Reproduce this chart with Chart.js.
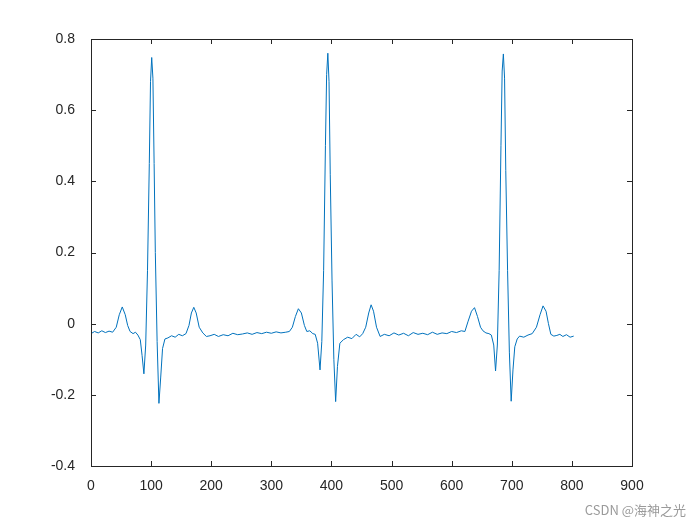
<!DOCTYPE html>
<html>
<head>
<meta charset="utf-8">
<script src="https://cdn.jsdelivr.net/npm/chart.js@4"></script>
<style>
body { margin: 0; background: #fff; }
#wrap { position: relative; width: 700px; height: 525px; }
#mark { position: absolute; right: 14px; bottom: 6px; font: 13px "Noto Sans CJK SC", sans-serif; color: #9a9a9a; }
</style>
</head>
<body>
<div id="wrap"><canvas id="c" width="700" height="525"></canvas><div id="mark">CSDN @海神之光</div></div>
<script>
// ECG samples (sample index, amplitude)
var sampleX = [0, 6, 12, 18, 24, 30, 36, 42, 47, 52, 57, 61, 65, 70, 74, 78, 82, 85, 88, 91, 94, 97, 99, 101, 103, 105, 107, 110, 113, 116, 119, 123, 128, 134, 140, 146, 152, 158, 163, 167, 171, 175, 180, 186, 192, 198,
    205, 212, 220, 228, 236, 244, 252, 260, 268, 276, 284, 292, 300, 308, 316, 324, 330, 335, 340, 345, 350, 355, 359, 364, 369, 373, 377, 381, 384, 387, 390, 392, 394, 396, 398, 401, 404, 407, 410, 414, 420, 427, 434, 441, 447, 452, 457, 462, 466, 470, 475, 481,
    488, 496, 504, 512, 520, 528, 536, 544, 552, 560, 568, 576, 584, 592, 600, 608, 616, 622, 627, 633, 638, 643, 648, 652, 657, 662, 666, 670, 673, 676, 679, 682, 684, 686, 688, 690, 693, 696, 699, 702, 705, 709, 713, 720, 727, 734, 741, 747, 752, 757, 761, 765, 770, 775, 780, 785, 791, 797, 803, 808, 812];
var sampleY = [-0.028, -0.022, -0.026, -0.020, -0.025, -0.021, -0.024, -0.010, 0.025, 0.047, 0.025, -0.005, -0.022, -0.028, -0.024, -0.032, -0.045, -0.090, -0.141, -0.060, 0.150, 0.450, 0.680, 0.748, 0.690, 0.450, 0.200, -0.050, -0.224, -0.150, -0.070, -0.043, -0.040, -0.034, -0.038, -0.030, -0.034, -0.028, -0.005, 0.030, 0.046, 0.030, -0.010, -0.026, -0.036, -0.034,
    -0.030, -0.036, -0.031, -0.034, -0.027, -0.031, -0.029, -0.026, -0.030, -0.025, -0.028, -0.024, -0.027, -0.023, -0.026, -0.024, -0.022, -0.010, 0.020, 0.042, 0.030, -0.005, -0.022, -0.020, -0.028, -0.030, -0.055, -0.130, -0.050, 0.150, 0.500, 0.700, 0.760, 0.680, 0.420, 0.120, -0.100, -0.219, -0.120, -0.055, -0.045, -0.038, -0.042, -0.030, -0.037, -0.028, -0.010, 0.030, 0.053, 0.035, -0.010, -0.036,
    -0.030, -0.034, -0.026, -0.032, -0.027, -0.034, -0.025, -0.030, -0.027, -0.031, -0.024, -0.030, -0.026, -0.028, -0.022, -0.025, -0.020, -0.022, 0.005, 0.035, 0.045, 0.020, -0.010, -0.020, -0.026, -0.028, -0.032, -0.060, -0.133, -0.060, 0.150, 0.500, 0.710, 0.758, 0.690, 0.430, 0.150, -0.080, -0.218, -0.130, -0.065, -0.043, -0.035, -0.038, -0.032, -0.028, -0.010, 0.025, 0.050, 0.035, 0.000, -0.030, -0.035, -0.033, -0.030, -0.036, -0.031, -0.038, -0.035];
var xTicks = [0, 100, 200, 300, 400, 500, 600, 700, 800, 900];
var yTicks = [-0.4, -0.2, 0, 0.2, 0.4, 0.6, 0.8];

var points = sampleX.map(function(x, i){ return {x: x, y: sampleY[i]}; });

// MATLAB-style box with inward ticks on all four sides
var boxPlugin = {
    id: 'box',
    afterDraw: function(chart){
        var ctx = chart.ctx, a = chart.chartArea;
        var sx = chart.scales.x, sy = chart.scales.y;
        ctx.save();
        ctx.strokeStyle = '#262626';
        ctx.lineWidth = 1;
        ctx.strokeRect(a.left + 0.5, a.top + 0.5, a.right - a.left, a.bottom - a.top);
        ctx.beginPath();
        xTicks.forEach(function(t){
            var px = Math.round(sx.getPixelForValue(t)) + 0.5;
            ctx.moveTo(px, a.bottom); ctx.lineTo(px, a.bottom - 5);
            ctx.moveTo(px, a.top); ctx.lineTo(px, a.top + 5);
        });
        yTicks.forEach(function(t){
            var py = Math.round(sy.getPixelForValue(t)) + 0.5;
            ctx.moveTo(a.left, py); ctx.lineTo(a.left + 5, py);
            ctx.moveTo(a.right, py); ctx.lineTo(a.right - 5, py);
        });
        ctx.stroke();
        ctx.restore();
    }
};

new Chart(document.getElementById('c'), {
    type: 'line',
    data: {
        datasets: [{
            data: points,
            borderColor: '#0072BD',
            borderWidth: 1,
            pointRadius: 0,
            tension: 0,
            fill: false
        }]
    },
    options: {
        responsive: false,
        animation: false,
        layout: { padding: { top: 39, right: 68, left: 0, bottom: 0 } },
        plugins: { legend: { display: false }, tooltip: { enabled: false } },
        scales: {
            x: {
                type: 'linear', min: 0, max: 900,
                afterBuildTicks: function(s){ s.ticks = xTicks.map(function(v){ return {value: v}; }); },
                afterFit: function(s){ s.height = 59; },
                grid: { display: false },
                border: { display: false },
                ticks: { color: '#262626', font: { family: 'Liberation Sans', size: 14 }, maxRotation: 0, padding: 4 }
            },
            y: {
                type: 'linear', min: -0.4, max: 0.8,
                afterBuildTicks: function(s){ s.ticks = yTicks.map(function(v){ return {value: v}; }); },
                afterFit: function(s){ s.width = 91; },
                grid: { display: false },
                border: { display: false },
                ticks: { color: '#262626', font: { family: 'Liberation Sans', size: 14 }, padding: 8,
                    callback: function(v){ return v === 0 ? '0' : v.toFixed(1); } }
            }
        }
    },
    plugins: [boxPlugin]
});
</script>
</body>
</html>
